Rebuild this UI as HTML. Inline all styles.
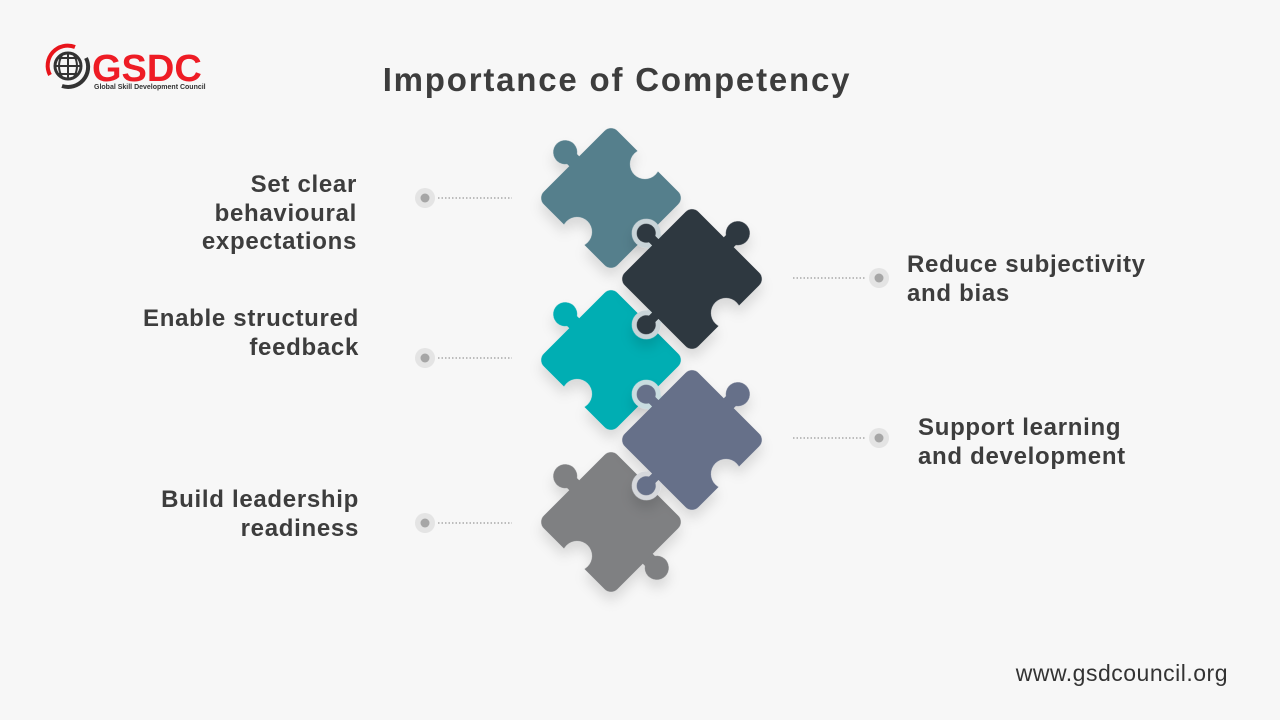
<!DOCTYPE html>
<html><head><meta charset="utf-8"><style>
html,body{margin:0;padding:0}
body{width:1280px;height:720px;background:#f7f7f7;position:relative;overflow:hidden;font-family:"Liberation Sans",sans-serif;color:#3d3d3d}
.t{position:absolute;font-weight:bold;font-size:24px;line-height:28.5px;letter-spacing:0.7px}
.l{text-align:right}
</style></head><body>
<svg width="1280" height="720" style="position:absolute;left:0;top:0">
<defs>
<filter id="sh" x="-30%" y="-30%" width="160%" height="160%"><feDropShadow dx="6" dy="6" stdDeviation="6" flood-color="#000" flood-opacity="0.12"/></filter>
<path id="knobL" d="M-48,-7 L-55,-7 A12,12 0 1 0 -55,7 L-48,7 Z"/>
<mask id="m2" maskUnits="userSpaceOnUse" x="-100" y="-100" width="200" height="200">
<rect x="-100" y="-100" width="200" height="200" fill="#fff"/>
<circle cx="0" cy="-48" r="15" fill="#000"/><circle cx="0" cy="48" r="15" fill="#000"/></mask>
<mask id="m1" maskUnits="userSpaceOnUse" x="-100" y="-100" width="200" height="200">
<rect x="-100" y="-100" width="200" height="200" fill="#fff"/>
<circle cx="0" cy="48" r="15" fill="#000"/></mask>
<mask id="mr" maskUnits="userSpaceOnUse" x="-100" y="-100" width="200" height="200">
<rect x="-100" y="-100" width="200" height="200" fill="#fff"/>
<circle cx="48" cy="0" r="15" fill="#000"/></mask>
</defs>
<!-- logo -->
<g>
<circle cx="68" cy="66" r="13" fill="none" stroke="#333" stroke-width="3"/>
<path d="M55,66 H81 M68,53 V79 M58,58 H78 M58,74 H78 M62,55 Q56,66 62,77 M74,55 Q80,66 74,77" stroke="#333" stroke-width="2" fill="none"/>
<path d="M50,75 A20,20 0 0 1 75,47" stroke="#e8141b" stroke-width="4" fill="none"/>
<path d="M86,58 A20,20 0 0 1 62,86" stroke="#333" stroke-width="4" fill="none"/>
<text x="92" y="81" font-family="Liberation Sans" font-weight="bold" font-size="38" fill="#ee1c25">GSDC</text>
<text x="94" y="89" font-family="Liberation Sans" font-weight="bold" font-size="7" fill="#333">Global Skill Development Council</text>
</g>
<!-- connectors -->
<g fill="none" stroke="#999" stroke-width="1.3" stroke-dasharray="1.5,2">
<line x1="438" y1="198" x2="512" y2="198"/><line x1="438" y1="358" x2="512" y2="358"/><line x1="438" y1="523" x2="512" y2="523"/>
<line x1="793" y1="278" x2="866" y2="278"/><line x1="793" y1="438" x2="866" y2="438"/>
</g>
<g fill="#e4e4e4"><circle cx="425" cy="198" r="10"/><circle cx="425" cy="358" r="10"/><circle cx="425" cy="523" r="10"/><circle cx="879" cy="278" r="10"/><circle cx="879" cy="438" r="10"/></g>
<g fill="#a6a6a6"><circle cx="425" cy="198" r="4.5"/><circle cx="425" cy="358" r="4.5"/><circle cx="425" cy="523" r="4.5"/><circle cx="879" cy="278" r="4.5"/><circle cx="879" cy="438" r="4.5"/></g>
<!-- left pieces -->
<g transform="translate(611,198) rotate(45)" fill="#557f8c" filter="url(#sh)">
<g mask="url(#m2)"><use href="#knobL"/><rect x="-52" y="-52" width="104" height="104" rx="9"/></g></g>
<g transform="translate(611,360) rotate(45)" fill="#00aeb3" filter="url(#sh)">
<g mask="url(#m1)"><use href="#knobL"/><rect x="-52" y="-52" width="104" height="104" rx="9"/></g></g>
<g transform="translate(611,522) rotate(45)" fill="#7f8082" filter="url(#sh)">
<g mask="url(#m1)"><use href="#knobL"/><use href="#knobL" transform="rotate(180)"/><rect x="-52" y="-52" width="104" height="104" rx="9"/></g></g>
<!-- right pieces -->
<g transform="translate(692,279) rotate(45)" fill="#2f3741" filter="url(#sh)">
<use href="#knobL" stroke="#c9d4d8" stroke-width="5"/>
<use href="#knobL" transform="rotate(-90)" stroke="#c9d4d8" stroke-width="5"/>
<g mask="url(#mr)"><use href="#knobL" transform="rotate(90)"/>
<rect x="-52" y="-52" width="104" height="104" rx="9"/></g></g>
<g transform="translate(692,440) rotate(45)" fill="#667089" filter="url(#sh)">
<use href="#knobL" stroke="#c9dde0" stroke-width="5"/>
<use href="#knobL" transform="rotate(-90)" stroke="#d6d8dc" stroke-width="5"/>
<g mask="url(#mr)"><use href="#knobL" transform="rotate(90)"/>
<rect x="-52" y="-52" width="104" height="104" rx="9"/></g></g>
<text x="617" y="91" text-anchor="middle" font-family="Liberation Sans" font-weight="bold" font-size="33" fill="#3d3d3d" letter-spacing="1.8">Importance of Competency</text>
<text x="1228" y="681" text-anchor="end" font-family="Liberation Sans" font-size="23" fill="#333" letter-spacing="0.5">www.gsdcouncil.org</text>
</svg>
<div class="t l" style="right:923px;top:171px">Set clear<br>behavioural<br>expectations</div>
<div class="t l" style="right:921px;top:305px">Enable structured<br>feedback</div>
<div class="t l" style="right:921px;top:486px">Build leadership<br>readiness</div>
<div class="t" style="left:907px;top:251px">Reduce subjectivity<br>and bias</div>
<div class="t" style="left:918px;top:414px">Support learning<br>and development</div>
</body></html>
